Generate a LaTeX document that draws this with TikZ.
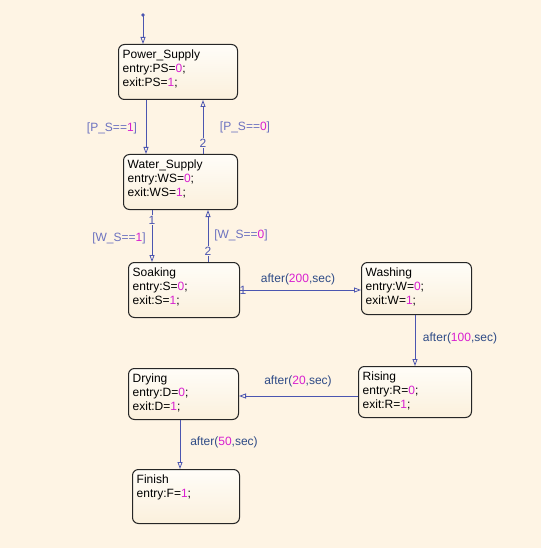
\documentclass[tikz,border=0pt]{standalone}
\usepackage{fontspec}
\setmainfont{Liberation Sans}
\usepackage{xcolor}
\usetikzlibrary{arrows.meta}
\definecolor{bgcream}{HTML}{FEF4E4}
\definecolor{statetop}{HTML}{FFFDF8}
\definecolor{statebot}{HTML}{FBF0DC}
\definecolor{edgeblue}{HTML}{4B55B0}
\definecolor{guardblue}{HTML}{6C72C0}
\definecolor{afterblue}{HTML}{2E4A86}
\definecolor{valmag}{HTML}{D81FD0}
\newcommand{\valc}[1]{\textcolor{valmag}{#1}}
\tikzset{
	state/.style={draw=black!85, line width=1pt, rounded corners=6pt, top color=statetop, bottom color=statebot, anchor=north west, inner sep=0pt},
	body/.style={anchor=north west, inner sep=0pt, align=left, xshift=4.5pt, yshift=-5.5pt, font=\fontsize{12}{14}\selectfont},
	tr/.style={draw=edgeblue, line width=0.8pt, -{Triangle[open, length=7pt, width=5pt]}},
	guard/.style={text=guardblue, font=\fontsize{12}{14}\selectfont, inner sep=1pt},
	timer/.style={text=afterblue, font=\fontsize{12}{14}\selectfont, inner sep=1pt},
	prio/.style={text=edgeblue, font=\fontsize{12}{14}\selectfont, inner sep=1pt, fill=bgcream}
}
\begin{document}
\begin{tikzpicture}[x=1pt, y=-1pt]
	\fill [bgcream] (0, 0) rectangle (541, 548);
	\useasboundingbox (0, 0) rectangle (541, 548);
	% states
	\node [state, minimum width=119pt, minimum height=55pt, label={[body]north west:Power\_Supply\\entry:PS=\valc{0};\\exit:PS=\valc{1};}] (power) at (118, 44) {};
	\node [state, minimum width=114pt, minimum height=55pt, label={[body]north west:Water\_Supply\\entry:WS=\valc{0};\\exit:WS=\valc{1};}] (water) at (123, 154) {};
	\node [state, minimum width=111pt, minimum height=55pt, label={[body]north west:Soaking\\entry:S=\valc{0};\\exit:S=\valc{1};}] (soak) at (128, 262) {};
	\node [state, minimum width=110pt, minimum height=52pt, label={[body]north west:Washing\\entry:W=\valc{0};\\exit:W=\valc{1};}] (wash) at (361, 262) {};
	\node [state, minimum width=113pt, minimum height=51pt, label={[body]north west:Rising\\entry:R=\valc{0};\\exit:R=\valc{1};}] (rise) at (358, 366) {};
	\node [state, minimum width=110pt, minimum height=51pt, label={[body]north west:Drying\\entry:D=\valc{0};\\exit:D=\valc{1};}] (dry) at (128, 368) {};
	\node [state, minimum width=107pt, minimum height=54pt, label={[body]north west:Finish\\entry:F=\valc{1};}] (finish) at (132, 469) {};
	% default transition
	\coordinate (init) at (143, 15);
	\fill [edgeblue] (init) circle (1.8pt);
	\draw [tr] (init) to ([xshift=25pt]power.north west);
	% transitions
	\draw [tr] ([xshift=28pt]power.south west) to ([xshift=23pt]water.north west);
	\draw [tr] ([xshift=80pt]water.north west) to ([xshift=85pt]power.south west);
	\draw [tr] ([xshift=29pt]water.south west) to ([xshift=24pt]soak.north west);
	\draw [tr] ([xshift=80pt]soak.north west) to ([xshift=85pt]water.south west);
	\draw [tr] ([yshift=-28pt]soak.north east) to ([yshift=-28pt]wash.north west);
	\draw [tr] ([xshift=54pt]wash.south west) to ([xshift=57pt]rise.north west);
	\draw [tr] ([yshift=-30pt]rise.north west) to ([yshift=-28pt]dry.north east);
	\draw [tr] ([xshift=52pt]dry.south west) to ([xshift=48pt]finish.north west);
	% labels
	\node [guard] (g1) at (112, 128) {[P\_S==\valc{1}]};
	\node [guard] (g2) at (245, 127) {[P\_S==\valc{0}]};
	\node [guard] (g3) at (119, 238) {[W\_S==\valc{1}]};
	\node [guard] (g4) at (241, 235) {[W\_S==\valc{0}]};
	\node [prio] (p1) at (203, 143) {2};
	\node [prio] (p2) at (152, 220) {1};
	\node [prio] (p3) at (208, 251) {2};
	\node [text=edgeblue, font=\fontsize{12}{14}\selectfont, inner sep=0pt] (p4) at (243, 290) {1};
	\node [timer] (t1) at (298, 279) {after(\valc{200},sec)};
	\node [timer] (t2) at (460, 338) {after(\valc{100},sec)};
	\node [timer] (t3) at (298, 381) {after(\valc{20},sec)};
	\node [timer] (t4) at (224, 442) {after(\valc{50},sec)};
\end{tikzpicture}
\end{document}
